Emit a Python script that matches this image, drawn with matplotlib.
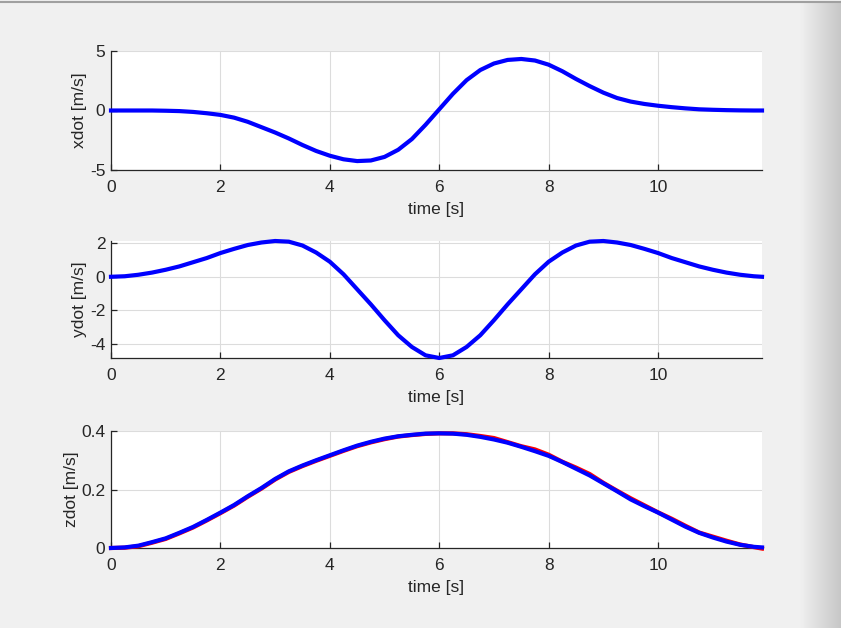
import numpy as np
import matplotlib
matplotlib.use("Agg")
import matplotlib.pyplot as plt

# time grid (s)
t = np.append(np.arange(0, 11.9, 0.25), 11.9)

xdot = [0, 0, 0, 0, -0.02, -0.05, -0.12, -0.23, -0.37, -0.6, -0.95, -1.4,
        -1.85, -2.35, -2.9, -3.4, -3.8, -4.1, -4.25, -4.2, -3.9, -3.3, -2.4, -1.2,
        0.1, 1.4, 2.55, 3.4, 3.95, 4.25, 4.33, 4.2, 3.85, 3.3, 2.65, 2.05,
        1.5, 1.05, 0.75, 0.55, 0.4, 0.28, 0.18, 0.1, 0.06, 0.03, 0.01, 0, 0]

ydot = [0, 0.03, 0.12, 0.25, 0.42, 0.62, 0.87, 1.12, 1.42, 1.67, 1.9, 2.05,
        2.14, 2.1, 1.87, 1.45, 0.9, 0.15, -0.75, -1.65, -2.6, -3.5, -4.2, -4.7,
        -4.86, -4.7, -4.2, -3.5, -2.6, -1.65, -0.75, 0.15, 0.9, 1.45, 1.87, 2.1,
        2.14, 2.05, 1.9, 1.67, 1.42, 1.12, 0.87, 0.62, 0.42, 0.25, 0.12, 0.03, 0]

zdot = [0, 0.002, 0.008, 0.02, 0.033, 0.052, 0.072, 0.096, 0.121, 0.147, 0.177, 0.205,
        0.236, 0.262, 0.282, 0.3, 0.317, 0.334, 0.35, 0.363, 0.374, 0.382, 0.387, 0.391,
        0.392, 0.391, 0.387, 0.38, 0.371, 0.36, 0.346, 0.331, 0.315, 0.294, 0.271, 0.248,
        0.221, 0.194, 0.166, 0.143, 0.121, 0.097, 0.073, 0.052, 0.036, 0.022, 0.011, 0.004, 0.002]

zdot_ref = [0, 0.001, 0.006, 0.018, 0.031, 0.05, 0.07, 0.094, 0.119, 0.145, 0.175, 0.203,
            0.234, 0.26, 0.28, 0.298, 0.315, 0.332, 0.348, 0.361, 0.372, 0.381, 0.386, 0.39,
            0.392, 0.392, 0.389, 0.383, 0.376, 0.362, 0.348, 0.337, 0.319, 0.295, 0.275, 0.253,
            0.223, 0.196, 0.17, 0.146, 0.122, 0.1, 0.076, 0.053, 0.039, 0.025, 0.012, 0.003, -0.002]

plt.rcParams['font.family'] = ['Liberation Sans', 'DejaVu Sans']
plt.rcParams['font.size'] = 12

bg = '#f0f0f0'
txt = '#262626'
fig = plt.figure(figsize=(8.41, 6.28), dpi=100, facecolor=bg)

# window chrome: top border line and shaded right edge
fig.add_artist(plt.Line2D([0, 1], [0.9965, 0.9965], color='#a0a0a0', lw=1.5))
shade = fig.add_axes([800 / 841, 0, 41 / 841, 0.996])
shade.imshow(np.linspace(0.94, 0.78, 64).reshape(1, -1), cmap='gray', vmin=0, vmax=1,
             aspect='auto', interpolation='bilinear')
shade.axis('off')

left, width = 111 / 841, 651 / 841
positions = [(170, 119), (358, 117), (548, 117)]
ylabels = ['xdot [m/s]', 'ydot [m/s]', 'zdot [m/s]']
ylims = [(-5, 5), (-4.86, 2.14), (0, 0.4)]
yticks = [[-5, 0, 5], [-4, -2, 0, 2], [0, 0.2, 0.4]]
yticklabels = [['-5', '0', '5'], ['-4', '-2', '0', '2'], ['0', '0.2', '0.4']]

axes = []
for (bot, h), yl, lim, yt, ytl in zip(positions, ylabels, ylims, yticks, yticklabels):
    ax = fig.add_axes([left, (628 - bot) / 628, width, h / 628])
    ax.set_facecolor('white')
    ax.set_xlim(0, 11.9)
    ax.set_ylim(*lim)
    ax.set_xticks([0, 2, 4, 6, 8, 10])
    ax.set_xticklabels(['0', '2', '4', '6', '8', '10'])
    ax.set_yticks(yt)
    ax.set_yticklabels(ytl)
    ax.grid(True, color='#dcdcdc', lw=0.8)
    ax.set_axisbelow(True)
    for s in ['top', 'right']:
        ax.spines[s].set_visible(False)
    for s in ['left', 'bottom']:
        ax.spines[s].set_color(txt)
        ax.spines[s].set_linewidth(0.9)
    ax.tick_params(direction='in', length=4, width=0.9, colors=txt, labelsize=12.5)
    ax.tick_params(axis='x', pad=7)
    ax.tick_params(axis='y', pad=4)
    ax.set_xlabel('time [s]', color=txt, fontsize=12.5, labelpad=5)
    ax.set_ylabel(yl, color=txt, fontsize=12.5, labelpad=2)
    axes.append(ax)

axes[0].plot(t, xdot, color='blue', lw=3, clip_on=False, zorder=3)
axes[1].plot(t, ydot, color='blue', lw=3, clip_on=False, zorder=3)
axes[2].plot(t, zdot_ref, color='red', lw=3, clip_on=False, zorder=3)
axes[2].plot(t, zdot, color='blue', lw=3, clip_on=False, zorder=4)

fig.savefig('out.png', dpi=100, facecolor=bg)
